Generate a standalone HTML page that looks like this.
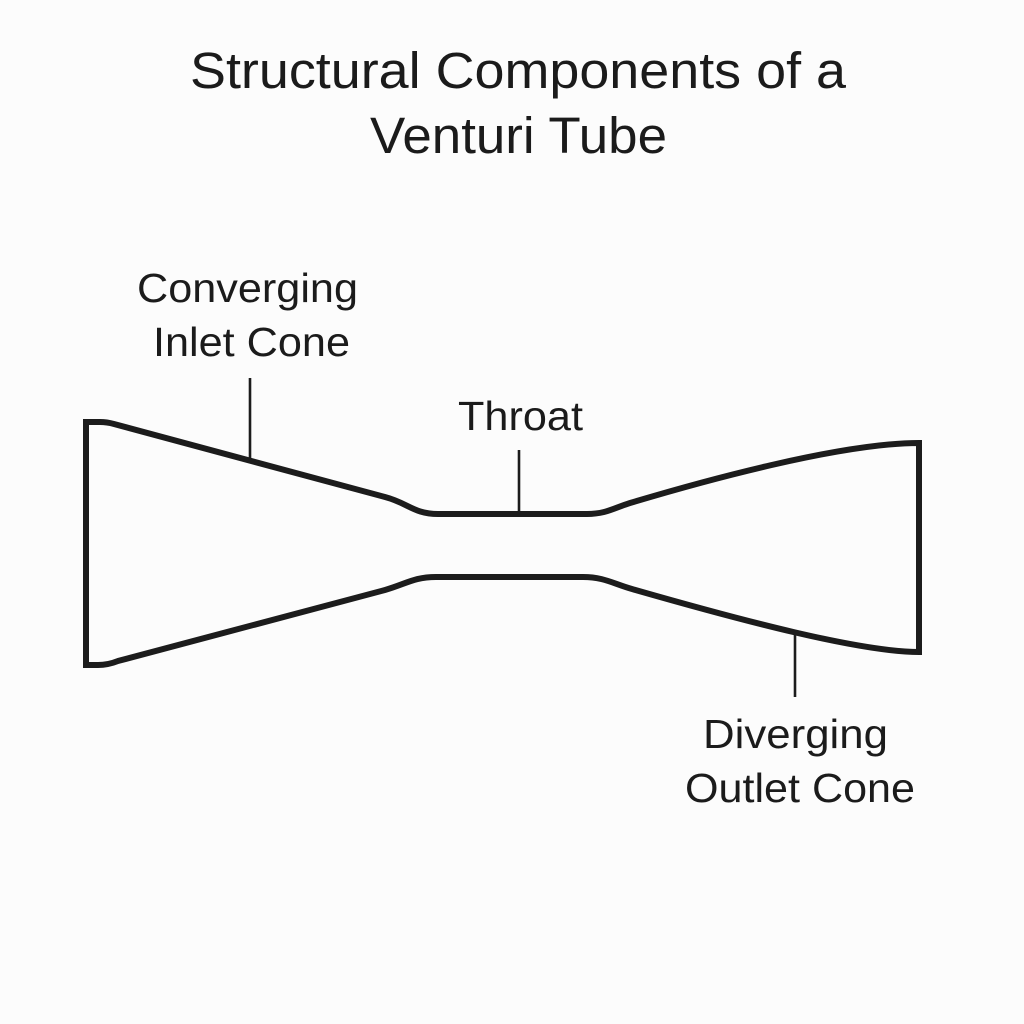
<!DOCTYPE html>
<html>
<head>
<meta charset="utf-8">
<style>
  html, body { margin:0; padding:0; background:#fcfcfc; }
  svg { display:block; }
  text { font-family: "Liberation Sans", "DejaVu Sans", sans-serif; fill:#1b1b1b; }
</style>
</head>
<body>
<svg width="1024" height="1024" viewBox="0 0 1024 1024" xmlns="http://www.w3.org/2000/svg">
  <rect x="0" y="0" width="1024" height="1024" fill="#fcfcfc"/>

  <!-- Title -->
  <text x="190" y="88" font-size="51" textLength="656" lengthAdjust="spacingAndGlyphs">Structural Components of a</text>
  <text x="370" y="153" font-size="51" textLength="297" lengthAdjust="spacingAndGlyphs">Venturi Tube</text>

  <!-- Labels -->
  <text x="137" y="302" font-size="41" textLength="221" lengthAdjust="spacingAndGlyphs">Converging</text>
  <text x="153" y="356" font-size="41" textLength="197" lengthAdjust="spacingAndGlyphs">Inlet Cone</text>
  <text x="458" y="430" font-size="41" textLength="125" lengthAdjust="spacingAndGlyphs">Throat</text>
  <text x="703" y="748" font-size="41" textLength="185" lengthAdjust="spacingAndGlyphs">Diverging</text>
  <text x="685" y="802" font-size="41" textLength="230" lengthAdjust="spacingAndGlyphs">Outlet Cone</text>

  <!-- Venturi tube outline -->
  <path d="M 86 422
           L 100 422
           Q 107 422 114 424
           L 385 497
           C 408 503 414 514 438 514
           L 587 514
           C 606 514 614 508 630 503
           C 700 482 840 443 919 443
           L 919 652
           C 860 652 740 620 632 589
           C 614 584 604 577 583 577
           L 436 577
           C 414 577 406 584 385 590
           L 118 661
           Q 108 665 98 665
           L 86 665 Z"
        fill="none" stroke="#1c1c1c" stroke-width="6" stroke-linejoin="miter"/>

  <!-- Leader lines -->
  <line x1="250" y1="378" x2="250" y2="461" stroke="#1c1c1c" stroke-width="2.6"/>
  <line x1="519" y1="450" x2="519" y2="514" stroke="#1c1c1c" stroke-width="2.6"/>
  <line x1="795" y1="634" x2="795" y2="697" stroke="#1c1c1c" stroke-width="2.6"/>
</svg>
</body>
</html>
